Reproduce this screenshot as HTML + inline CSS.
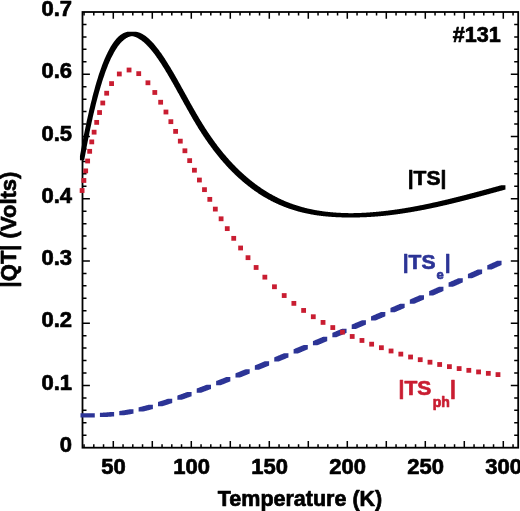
<!DOCTYPE html>
<html><head><meta charset="utf-8"><title>|QT| vs Temperature</title>
<style>html,body{margin:0;padding:0;background:#fff}body{width:520px;height:511px;overflow:hidden}svg{display:block}</style>
</head><body>
<svg width="520" height="511" viewBox="0 0 520 511">
<rect x="0" y="0" width="520" height="511" fill="#fff"/>
<path d="M84.05 447.70v-3.40M84.05 12.00v3.40M93.80 447.70v-3.40M93.80 12.00v3.40M103.55 447.70v-3.40M103.55 12.00v3.40M113.30 447.70v-6.80M113.30 12.00v6.80M123.05 447.70v-3.40M123.05 12.00v3.40M132.80 447.70v-3.40M132.80 12.00v3.40M142.55 447.70v-3.40M142.55 12.00v3.40M152.30 447.70v-6.80M152.30 12.00v6.80M162.05 447.70v-3.40M162.05 12.00v3.40M171.80 447.70v-3.40M171.80 12.00v3.40M181.55 447.70v-3.40M181.55 12.00v3.40M191.30 447.70v-6.80M191.30 12.00v6.80M201.05 447.70v-3.40M201.05 12.00v3.40M210.80 447.70v-3.40M210.80 12.00v3.40M220.55 447.70v-3.40M220.55 12.00v3.40M230.30 447.70v-6.80M230.30 12.00v6.80M240.05 447.70v-3.40M240.05 12.00v3.40M249.80 447.70v-3.40M249.80 12.00v3.40M259.55 447.70v-3.40M259.55 12.00v3.40M269.30 447.70v-6.80M269.30 12.00v6.80M279.05 447.70v-3.40M279.05 12.00v3.40M288.80 447.70v-3.40M288.80 12.00v3.40M298.55 447.70v-3.40M298.55 12.00v3.40M308.30 447.70v-6.80M308.30 12.00v6.80M318.05 447.70v-3.40M318.05 12.00v3.40M327.80 447.70v-3.40M327.80 12.00v3.40M337.55 447.70v-3.40M337.55 12.00v3.40M347.30 447.70v-6.80M347.30 12.00v6.80M357.05 447.70v-3.40M357.05 12.00v3.40M366.80 447.70v-3.40M366.80 12.00v3.40M376.55 447.70v-3.40M376.55 12.00v3.40M386.30 447.70v-6.80M386.30 12.00v6.80M396.05 447.70v-3.40M396.05 12.00v3.40M405.80 447.70v-3.40M405.80 12.00v3.40M415.55 447.70v-3.40M415.55 12.00v3.40M425.30 447.70v-6.80M425.30 12.00v6.80M435.05 447.70v-3.40M435.05 12.00v3.40M444.80 447.70v-3.40M444.80 12.00v3.40M454.55 447.70v-3.40M454.55 12.00v3.40M464.30 447.70v-6.80M464.30 12.00v6.80M474.05 447.70v-3.40M474.05 12.00v3.40M483.80 447.70v-3.40M483.80 12.00v3.40M493.55 447.70v-3.40M493.55 12.00v3.40M503.30 447.70v-6.80M503.30 12.00v6.80M513.05 447.70v-3.40M513.05 12.00v3.40M82.50 435.25h4.00M518.20 435.25h-4.00M82.50 422.80h4.00M518.20 422.80h-4.00M82.50 410.35h4.00M518.20 410.35h-4.00M82.50 397.91h4.00M518.20 397.91h-4.00M82.50 385.46h7.40M518.20 385.46h-7.40M82.50 373.01h4.00M518.20 373.01h-4.00M82.50 360.56h4.00M518.20 360.56h-4.00M82.50 348.11h4.00M518.20 348.11h-4.00M82.50 335.66h4.00M518.20 335.66h-4.00M82.50 323.21h7.40M518.20 323.21h-7.40M82.50 310.77h4.00M518.20 310.77h-4.00M82.50 298.32h4.00M518.20 298.32h-4.00M82.50 285.87h4.00M518.20 285.87h-4.00M82.50 273.42h4.00M518.20 273.42h-4.00M82.50 260.97h7.40M518.20 260.97h-7.40M82.50 248.52h4.00M518.20 248.52h-4.00M82.50 236.07h4.00M518.20 236.07h-4.00M82.50 223.63h4.00M518.20 223.63h-4.00M82.50 211.18h4.00M518.20 211.18h-4.00M82.50 198.73h7.40M518.20 198.73h-7.40M82.50 186.28h4.00M518.20 186.28h-4.00M82.50 173.83h4.00M518.20 173.83h-4.00M82.50 161.38h4.00M518.20 161.38h-4.00M82.50 148.93h4.00M518.20 148.93h-4.00M82.50 136.49h7.40M518.20 136.49h-7.40M82.50 124.04h4.00M518.20 124.04h-4.00M82.50 111.59h4.00M518.20 111.59h-4.00M82.50 99.14h4.00M518.20 99.14h-4.00M82.50 86.69h4.00M518.20 86.69h-4.00M82.50 74.24h7.40M518.20 74.24h-7.40M82.50 61.79h4.00M518.20 61.79h-4.00M82.50 49.35h4.00M518.20 49.35h-4.00M82.50 36.90h4.00M518.20 36.90h-4.00M82.50 24.45h4.00M518.20 24.45h-4.00" stroke="#000" stroke-width="1.50" fill="none"/>
<rect x="82.50" y="12.00" width="435.70" height="435.70" fill="none" stroke="#000" stroke-width="1.8"/>
<path d="M80.50 413.17 L80.90 413.17 L81.31 413.17 L81.72 413.17 L82.13 413.17 L82.54 413.17 L82.94 413.17 L83.35 413.17 L83.76 413.17 L84.17 413.17 L84.58 413.17 L84.99 413.17 L85.39 413.17 L85.80 413.17 L86.21 413.18 L86.62 413.17 L87.03 413.17 L87.43 413.17 L87.84 413.16 L88.25 413.16 L88.66 413.15 L89.07 413.15 L89.47 413.14 L89.88 413.14 L90.29 413.13 L90.70 413.13 L91.11 413.13 L91.52 413.13 L91.92 413.13 L92.33 413.13 L92.74 413.13 L93.15 413.13 L93.56 413.13 L93.96 413.13 L94.37 413.13 L94.78 413.13 L94.78 417.43 L94.37 417.43 L93.96 417.44 L93.56 417.44 L93.15 417.45 L92.74 417.46 L92.33 417.46 L91.92 417.47 L91.52 417.47 L91.11 417.47 L90.70 417.48 L90.29 417.48 L89.88 417.48 L89.47 417.48 L89.07 417.48 L88.66 417.48 L88.25 417.48 L87.84 417.48 L87.43 417.48 L87.03 417.48 L86.62 417.48 L86.21 417.48 L85.80 417.48 L85.39 417.48 L84.99 417.48 L84.58 417.48 L84.17 417.48 L83.76 417.48 L83.35 417.48 L82.94 417.48 L82.54 417.48 L82.13 417.48 L81.72 417.48 L81.31 417.47 L80.90 417.47 L80.50 417.47Z M99.92 412.80 L100.32 412.78 L100.73 412.76 L101.14 412.73 L101.54 412.71 L101.95 412.68 L102.35 412.66 L102.76 412.64 L103.17 412.61 L103.57 412.59 L103.98 412.56 L104.38 412.53 L104.79 412.50 L105.19 412.47 L105.60 412.44 L106.01 412.41 L106.41 412.38 L106.82 412.35 L107.22 412.32 L107.63 412.28 L108.04 412.25 L108.44 412.21 L108.85 412.18 L109.25 412.14 L109.66 412.11 L110.07 412.09 L110.47 412.09 L110.88 412.09 L111.28 412.09 L111.69 412.09 L112.09 412.09 L112.50 412.09 L112.91 412.09 L113.31 412.09 L113.72 412.09 L114.12 412.09 L114.12 416.39 L113.72 416.42 L113.31 416.46 L112.91 416.49 L112.50 416.53 L112.09 416.57 L111.69 416.60 L111.28 416.63 L110.88 416.66 L110.47 416.69 L110.07 416.73 L109.66 416.76 L109.25 416.78 L108.85 416.81 L108.44 416.84 L108.04 416.87 L107.63 416.90 L107.22 416.92 L106.82 416.95 L106.41 416.97 L106.01 417.00 L105.60 417.02 L105.19 417.04 L104.79 417.06 L104.38 417.09 L103.98 417.10 L103.57 417.10 L103.17 417.10 L102.76 417.10 L102.35 417.10 L101.95 417.10 L101.54 417.10 L101.14 417.10 L100.73 417.10 L100.32 417.10 L99.92 417.10Z M119.26 410.99 L119.67 410.94 L120.07 410.88 L120.48 410.83 L120.89 410.77 L121.29 410.70 L121.70 410.64 L122.10 410.58 L122.51 410.52 L122.91 410.46 L123.32 410.38 L123.73 410.32 L124.13 410.26 L124.54 410.19 L124.94 410.13 L125.35 410.05 L125.76 409.98 L126.16 409.91 L126.57 409.84 L126.97 409.77 L127.38 409.68 L127.79 409.61 L128.19 409.54 L128.60 409.47 L129.00 409.39 L129.41 409.35 L129.82 409.35 L130.22 409.35 L130.63 409.35 L131.03 409.35 L131.44 409.35 L131.84 409.35 L132.25 409.35 L132.66 409.35 L133.06 409.35 L133.47 409.35 L133.47 413.65 L133.06 413.72 L132.66 413.80 L132.25 413.87 L131.84 413.94 L131.44 414.03 L131.03 414.10 L130.63 414.17 L130.22 414.24 L129.82 414.30 L129.41 414.39 L129.00 414.45 L128.60 414.52 L128.19 414.58 L127.79 414.65 L127.38 414.72 L126.97 414.78 L126.57 414.84 L126.16 414.90 L125.76 414.96 L125.35 415.03 L124.94 415.09 L124.54 415.15 L124.13 415.20 L123.73 415.26 L123.32 415.29 L122.91 415.29 L122.51 415.29 L122.10 415.29 L121.70 415.29 L121.29 415.29 L120.89 415.29 L120.48 415.29 L120.07 415.29 L119.67 415.29 L119.26 415.29Z M138.61 407.31 L139.01 407.22 L139.42 407.13 L139.83 407.03 L140.24 406.94 L140.65 406.82 L141.05 406.73 L141.46 406.63 L141.87 406.53 L142.28 406.42 L142.69 406.32 L143.10 406.22 L143.50 406.12 L143.91 405.99 L144.32 405.89 L144.73 405.79 L145.14 405.69 L145.54 405.58 L145.95 405.46 L146.36 405.36 L146.77 405.25 L147.18 405.14 L147.58 405.02 L147.99 404.91 L148.40 404.80 L148.81 404.74 L149.22 404.74 L149.63 404.74 L150.03 404.74 L150.44 404.74 L150.85 404.74 L151.26 404.74 L151.67 404.74 L152.07 404.74 L152.48 404.74 L152.89 404.74 L152.89 409.04 L152.48 409.14 L152.07 409.25 L151.67 409.36 L151.26 409.47 L150.85 409.59 L150.44 409.70 L150.03 409.80 L149.63 409.91 L149.22 410.03 L148.81 410.13 L148.40 410.23 L147.99 410.34 L147.58 410.46 L147.18 410.56 L146.77 410.66 L146.36 410.75 L145.95 410.85 L145.54 410.97 L145.14 411.07 L144.73 411.16 L144.32 411.26 L143.91 411.37 L143.50 411.47 L143.10 411.56 L142.69 411.61 L142.28 411.61 L141.87 411.61 L141.46 411.61 L141.05 411.61 L140.65 411.61 L140.24 411.61 L139.83 411.61 L139.42 411.61 L139.01 411.61 L138.61 411.61Z M158.03 401.96 L158.43 401.84 L158.84 401.72 L159.25 401.60 L159.65 401.48 L160.06 401.33 L160.46 401.21 L160.87 401.08 L161.28 400.96 L161.68 400.83 L162.09 400.68 L162.49 400.56 L162.90 400.43 L163.30 400.31 L163.71 400.18 L164.12 400.03 L164.52 399.90 L164.93 399.77 L165.33 399.65 L165.74 399.52 L166.15 399.36 L166.55 399.23 L166.96 399.10 L167.36 398.97 L167.77 398.84 L168.18 398.77 L168.58 398.77 L168.99 398.77 L169.39 398.77 L169.80 398.77 L170.20 398.77 L170.61 398.77 L171.02 398.77 L171.42 398.77 L171.83 398.77 L172.23 398.77 L172.23 403.07 L171.83 403.20 L171.42 403.33 L171.02 403.46 L170.61 403.59 L170.20 403.74 L169.80 403.87 L169.39 404.00 L168.99 404.12 L168.58 404.25 L168.18 404.40 L167.77 404.53 L167.36 404.66 L166.96 404.78 L166.55 404.91 L166.15 405.06 L165.74 405.18 L165.33 405.31 L164.93 405.43 L164.52 405.55 L164.12 405.70 L163.71 405.82 L163.30 405.95 L162.90 406.07 L162.49 406.19 L162.09 406.26 L161.68 406.26 L161.28 406.26 L160.87 406.26 L160.46 406.26 L160.06 406.26 L159.65 406.26 L159.25 406.26 L158.84 406.26 L158.43 406.26 L158.03 406.26Z M177.37 395.52 L177.78 395.38 L178.18 395.24 L178.59 395.10 L179.00 394.97 L179.40 394.80 L179.81 394.66 L180.21 394.52 L180.62 394.38 L181.02 394.24 L181.43 394.08 L181.84 393.94 L182.24 393.80 L182.65 393.66 L183.05 393.52 L183.46 393.35 L183.87 393.21 L184.27 393.07 L184.68 392.92 L185.08 392.78 L185.49 392.61 L185.90 392.47 L186.30 392.33 L186.71 392.19 L187.11 392.05 L187.52 391.96 L187.93 391.96 L188.33 391.96 L188.74 391.96 L189.14 391.96 L189.55 391.96 L189.95 391.96 L190.36 391.96 L190.77 391.96 L191.17 391.96 L191.58 391.96 L191.58 396.26 L191.17 396.40 L190.77 396.54 L190.36 396.69 L189.95 396.83 L189.55 397.00 L189.14 397.14 L188.74 397.28 L188.33 397.42 L187.93 397.56 L187.52 397.73 L187.11 397.87 L186.71 398.01 L186.30 398.15 L185.90 398.29 L185.49 398.46 L185.08 398.60 L184.68 398.74 L184.27 398.88 L183.87 399.02 L183.46 399.18 L183.05 399.32 L182.65 399.46 L182.24 399.60 L181.84 399.73 L181.43 399.82 L181.02 399.82 L180.62 399.82 L180.21 399.82 L179.81 399.82 L179.40 399.82 L179.00 399.82 L178.59 399.82 L178.18 399.82 L177.78 399.82 L177.37 399.82Z M196.72 388.47 L197.12 388.33 L197.53 388.18 L197.94 388.03 L198.35 387.89 L198.76 387.71 L199.16 387.56 L199.57 387.42 L199.98 387.27 L200.39 387.09 L200.80 386.94 L201.21 386.80 L201.61 386.65 L202.02 386.47 L202.43 386.32 L202.84 386.18 L203.25 386.03 L203.65 385.88 L204.06 385.70 L204.47 385.55 L204.88 385.40 L205.29 385.25 L205.69 385.07 L206.10 384.92 L206.51 384.77 L206.92 384.68 L207.33 384.68 L207.74 384.68 L208.14 384.68 L208.55 384.68 L208.96 384.68 L209.37 384.68 L209.78 384.68 L210.18 384.68 L210.59 384.68 L211.00 384.68 L211.00 388.98 L210.59 389.13 L210.18 389.28 L209.78 389.43 L209.37 389.58 L208.96 389.76 L208.55 389.91 L208.14 390.06 L207.74 390.21 L207.33 390.39 L206.92 390.53 L206.51 390.68 L206.10 390.83 L205.69 391.01 L205.29 391.16 L204.88 391.30 L204.47 391.45 L204.06 391.60 L203.65 391.77 L203.25 391.92 L202.84 392.07 L202.43 392.22 L202.02 392.39 L201.61 392.54 L201.21 392.68 L200.80 392.77 L200.39 392.77 L199.98 392.77 L199.57 392.77 L199.16 392.77 L198.76 392.77 L198.35 392.77 L197.94 392.77 L197.53 392.77 L197.12 392.77 L196.72 392.77Z M216.14 381.02 L216.54 380.87 L216.95 380.72 L217.36 380.57 L217.76 380.41 L218.17 380.23 L218.57 380.08 L218.98 379.92 L219.39 379.77 L219.79 379.61 L220.20 379.43 L220.60 379.28 L221.01 379.12 L221.41 378.97 L221.82 378.81 L222.23 378.63 L222.63 378.47 L223.04 378.32 L223.44 378.16 L223.85 378.01 L224.26 377.82 L224.66 377.67 L225.07 377.51 L225.47 377.36 L225.88 377.20 L226.29 377.11 L226.69 377.11 L227.10 377.11 L227.50 377.11 L227.91 377.11 L228.31 377.11 L228.72 377.11 L229.13 377.11 L229.53 377.11 L229.94 377.11 L230.34 377.11 L230.34 381.41 L229.94 381.56 L229.53 381.72 L229.13 381.87 L228.72 382.03 L228.31 382.22 L227.91 382.37 L227.50 382.53 L227.10 382.68 L226.69 382.84 L226.29 383.02 L225.88 383.17 L225.47 383.33 L225.07 383.48 L224.66 383.64 L224.26 383.82 L223.85 383.98 L223.44 384.13 L223.04 384.28 L222.63 384.44 L222.23 384.62 L221.82 384.77 L221.41 384.93 L221.01 385.08 L220.60 385.23 L220.20 385.32 L219.79 385.32 L219.39 385.32 L218.98 385.32 L218.57 385.32 L218.17 385.32 L217.76 385.32 L217.36 385.32 L216.95 385.32 L216.54 385.32 L216.14 385.32Z M235.48 373.32 L235.89 373.16 L236.29 373.00 L236.70 372.84 L237.11 372.68 L237.51 372.50 L237.92 372.34 L238.32 372.18 L238.73 372.02 L239.13 371.86 L239.54 371.67 L239.95 371.51 L240.35 371.35 L240.76 371.19 L241.16 371.04 L241.57 370.85 L241.98 370.69 L242.38 370.53 L242.79 370.37 L243.19 370.21 L243.60 370.02 L244.01 369.86 L244.41 369.70 L244.82 369.54 L245.22 369.38 L245.63 369.28 L246.04 369.28 L246.44 369.28 L246.85 369.28 L247.25 369.28 L247.66 369.28 L248.06 369.28 L248.47 369.28 L248.88 369.28 L249.28 369.28 L249.69 369.28 L249.69 373.58 L249.28 373.74 L248.88 373.90 L248.47 374.06 L248.06 374.22 L247.66 374.41 L247.25 374.57 L246.85 374.73 L246.44 374.89 L246.04 375.05 L245.63 375.24 L245.22 375.40 L244.82 375.56 L244.41 375.72 L244.01 375.88 L243.60 376.07 L243.19 376.22 L242.79 376.38 L242.38 376.54 L241.98 376.70 L241.57 376.89 L241.16 377.05 L240.76 377.21 L240.35 377.36 L239.95 377.52 L239.54 377.62 L239.13 377.62 L238.73 377.62 L238.32 377.62 L237.92 377.62 L237.51 377.62 L237.11 377.62 L236.70 377.62 L236.29 377.62 L235.89 377.62 L235.48 377.62Z M254.83 365.40 L255.23 365.24 L255.64 365.08 L256.05 364.91 L256.46 364.75 L256.87 364.56 L257.27 364.40 L257.68 364.24 L258.09 364.07 L258.50 363.88 L258.91 363.72 L259.32 363.56 L259.72 363.39 L260.13 363.20 L260.54 363.04 L260.95 362.88 L261.36 362.71 L261.76 362.55 L262.17 362.36 L262.58 362.20 L262.99 362.03 L263.40 361.87 L263.80 361.68 L264.21 361.51 L264.62 361.35 L265.03 361.25 L265.44 361.25 L265.85 361.25 L266.25 361.25 L266.66 361.25 L267.07 361.25 L267.48 361.25 L267.89 361.25 L268.29 361.25 L268.70 361.25 L269.11 361.25 L269.11 365.55 L268.70 365.72 L268.29 365.88 L267.89 366.04 L267.48 366.20 L267.07 366.40 L266.66 366.56 L266.25 366.72 L265.85 366.88 L265.44 367.08 L265.03 367.24 L264.62 367.40 L264.21 367.56 L263.80 367.76 L263.40 367.92 L262.99 368.08 L262.58 368.24 L262.17 368.41 L261.76 368.60 L261.36 368.76 L260.95 368.92 L260.54 369.08 L260.13 369.28 L259.72 369.44 L259.32 369.60 L258.91 369.70 L258.50 369.70 L258.09 369.70 L257.68 369.70 L257.27 369.70 L256.87 369.70 L256.46 369.70 L256.05 369.70 L255.64 369.70 L255.23 369.70 L254.83 369.70Z M274.25 357.31 L274.65 357.15 L275.06 356.99 L275.47 356.83 L275.87 356.66 L276.28 356.47 L276.68 356.30 L277.09 356.14 L277.50 355.98 L277.90 355.81 L278.31 355.62 L278.71 355.45 L279.12 355.29 L279.52 355.13 L279.93 354.96 L280.34 354.77 L280.74 354.60 L281.15 354.44 L281.55 354.28 L281.96 354.11 L282.37 353.92 L282.77 353.75 L283.18 353.59 L283.58 353.43 L283.99 353.26 L284.40 353.17 L284.80 353.17 L285.21 353.17 L285.61 353.17 L286.02 353.17 L286.42 353.17 L286.83 353.17 L287.24 353.17 L287.64 353.17 L288.05 353.17 L288.45 353.17 L288.45 357.47 L288.05 357.63 L287.64 357.79 L287.24 357.96 L286.83 358.12 L286.42 358.32 L286.02 358.48 L285.61 358.64 L285.21 358.81 L284.80 358.97 L284.40 359.17 L283.99 359.33 L283.58 359.49 L283.18 359.66 L282.77 359.82 L282.37 360.02 L281.96 360.18 L281.55 360.34 L281.15 360.50 L280.74 360.67 L280.34 360.86 L279.93 361.03 L279.52 361.19 L279.12 361.35 L278.71 361.52 L278.31 361.61 L277.90 361.61 L277.50 361.61 L277.09 361.61 L276.68 361.61 L276.28 361.61 L275.87 361.61 L275.47 361.61 L275.06 361.61 L274.65 361.61 L274.25 361.61Z M293.59 349.20 L294.00 349.04 L294.40 348.88 L294.81 348.71 L295.22 348.55 L295.62 348.35 L296.03 348.19 L296.43 348.02 L296.84 347.86 L297.24 347.70 L297.65 347.50 L298.06 347.34 L298.46 347.17 L298.87 347.01 L299.27 346.84 L299.68 346.65 L300.09 346.48 L300.49 346.32 L300.90 346.15 L301.30 345.99 L301.71 345.79 L302.12 345.63 L302.52 345.46 L302.93 345.30 L303.33 345.14 L303.74 345.04 L304.15 345.04 L304.55 345.04 L304.96 345.04 L305.36 345.04 L305.77 345.04 L306.17 345.04 L306.58 345.04 L306.99 345.04 L307.39 345.04 L307.80 345.04 L307.80 349.34 L307.39 349.50 L306.99 349.67 L306.58 349.83 L306.17 349.99 L305.77 350.19 L305.36 350.36 L304.96 350.52 L304.55 350.68 L304.15 350.85 L303.74 351.04 L303.33 351.21 L302.93 351.37 L302.52 351.54 L302.12 351.70 L301.71 351.90 L301.30 352.06 L300.90 352.23 L300.49 352.39 L300.09 352.55 L299.68 352.75 L299.27 352.91 L298.87 353.08 L298.46 353.24 L298.06 353.41 L297.65 353.50 L297.24 353.50 L296.84 353.50 L296.43 353.50 L296.03 353.50 L295.62 353.50 L295.22 353.50 L294.81 353.50 L294.40 353.50 L294.00 353.50 L293.59 353.50Z M312.94 341.06 L313.34 340.89 L313.75 340.73 L314.16 340.56 L314.57 340.40 L314.98 340.20 L315.38 340.04 L315.79 339.87 L316.20 339.71 L316.61 339.51 L317.02 339.34 L317.43 339.18 L317.83 339.01 L318.24 338.82 L318.65 338.65 L319.06 338.49 L319.47 338.32 L319.87 338.16 L320.28 337.96 L320.69 337.79 L321.10 337.63 L321.51 337.46 L321.91 337.27 L322.32 337.10 L322.73 336.94 L323.14 336.84 L323.55 336.84 L323.96 336.84 L324.36 336.84 L324.77 336.84 L325.18 336.84 L325.59 336.84 L326.00 336.84 L326.40 336.84 L326.81 336.84 L327.22 336.84 L327.22 341.14 L326.81 341.30 L326.40 341.47 L326.00 341.63 L325.59 341.80 L325.18 342.00 L324.77 342.16 L324.36 342.33 L323.96 342.49 L323.55 342.69 L323.14 342.85 L322.73 343.02 L322.32 343.18 L321.91 343.38 L321.51 343.55 L321.10 343.71 L320.69 343.88 L320.28 344.04 L319.87 344.24 L319.47 344.40 L319.06 344.57 L318.65 344.73 L318.24 344.93 L317.83 345.09 L317.43 345.26 L317.02 345.36 L316.61 345.36 L316.20 345.36 L315.79 345.36 L315.38 345.36 L314.98 345.36 L314.57 345.36 L314.16 345.36 L313.75 345.36 L313.34 345.36 L312.94 345.36Z M332.36 332.84 L332.76 332.67 L333.17 332.51 L333.58 332.34 L333.98 332.17 L334.39 331.98 L334.79 331.81 L335.20 331.64 L335.61 331.48 L336.01 331.31 L336.42 331.11 L336.82 330.95 L337.23 330.78 L337.63 330.62 L338.04 330.45 L338.45 330.25 L338.85 330.09 L339.26 329.92 L339.66 329.75 L340.07 329.59 L340.48 329.39 L340.88 329.22 L341.29 329.06 L341.69 328.89 L342.10 328.73 L342.51 328.63 L342.91 328.63 L343.32 328.63 L343.72 328.63 L344.13 328.63 L344.53 328.63 L344.94 328.63 L345.35 328.63 L345.75 328.63 L346.16 328.63 L346.56 328.63 L346.56 332.93 L346.16 333.09 L345.75 333.26 L345.35 333.42 L344.94 333.59 L344.53 333.79 L344.13 333.95 L343.72 334.12 L343.32 334.29 L342.91 334.45 L342.51 334.65 L342.10 334.82 L341.69 334.98 L341.29 335.15 L340.88 335.31 L340.48 335.51 L340.07 335.68 L339.66 335.84 L339.26 336.01 L338.85 336.18 L338.45 336.37 L338.04 336.54 L337.63 336.71 L337.23 336.87 L336.82 337.04 L336.42 337.14 L336.01 337.14 L335.61 337.14 L335.20 337.14 L334.79 337.14 L334.39 337.14 L333.98 337.14 L333.58 337.14 L333.17 337.14 L332.76 337.14 L332.36 337.14Z M351.70 324.60 L352.11 324.44 L352.51 324.27 L352.92 324.10 L353.33 323.94 L353.73 323.74 L354.14 323.57 L354.54 323.40 L354.95 323.24 L355.35 323.07 L355.76 322.87 L356.17 322.70 L356.57 322.54 L356.98 322.37 L357.38 322.20 L357.79 322.00 L358.20 321.84 L358.60 321.67 L359.01 321.50 L359.41 321.33 L359.82 321.13 L360.23 320.97 L360.63 320.80 L361.04 320.63 L361.44 320.47 L361.85 320.37 L362.26 320.37 L362.66 320.37 L363.07 320.37 L363.47 320.37 L363.88 320.37 L364.28 320.37 L364.69 320.37 L365.10 320.37 L365.50 320.37 L365.91 320.37 L365.91 324.67 L365.50 324.83 L365.10 325.00 L364.69 325.17 L364.28 325.33 L363.88 325.53 L363.47 325.70 L363.07 325.87 L362.66 326.03 L362.26 326.20 L361.85 326.40 L361.44 326.57 L361.04 326.74 L360.63 326.90 L360.23 327.07 L359.82 327.27 L359.41 327.44 L359.01 327.60 L358.60 327.77 L358.20 327.94 L357.79 328.14 L357.38 328.30 L356.98 328.47 L356.57 328.64 L356.17 328.80 L355.76 328.90 L355.35 328.90 L354.95 328.90 L354.54 328.90 L354.14 328.90 L353.73 328.90 L353.33 328.90 L352.92 328.90 L352.51 328.90 L352.11 328.90 L351.70 328.90Z M371.05 316.32 L371.45 316.15 L371.86 315.98 L372.27 315.81 L372.68 315.65 L373.09 315.45 L373.49 315.28 L373.90 315.11 L374.31 314.94 L374.72 314.74 L375.13 314.57 L375.54 314.41 L375.94 314.24 L376.35 314.04 L376.76 313.87 L377.17 313.70 L377.58 313.53 L377.98 313.37 L378.39 313.16 L378.80 313.00 L379.21 312.83 L379.62 312.66 L380.02 312.46 L380.43 312.29 L380.84 312.12 L381.25 312.02 L381.66 312.02 L382.07 312.02 L382.47 312.02 L382.88 312.02 L383.29 312.02 L383.70 312.02 L384.11 312.02 L384.51 312.02 L384.92 312.02 L385.33 312.02 L385.33 316.32 L384.92 316.49 L384.51 316.66 L384.11 316.83 L383.70 316.99 L383.29 317.19 L382.88 317.36 L382.47 317.53 L382.07 317.70 L381.66 317.90 L381.25 318.07 L380.84 318.24 L380.43 318.40 L380.02 318.61 L379.62 318.77 L379.21 318.94 L378.80 319.11 L378.39 319.28 L377.98 319.48 L377.58 319.65 L377.17 319.81 L376.76 319.98 L376.35 320.18 L375.94 320.35 L375.54 320.52 L375.13 320.62 L374.72 320.62 L374.31 320.62 L373.90 320.62 L373.49 320.62 L373.09 320.62 L372.68 320.62 L372.27 320.62 L371.86 320.62 L371.45 320.62 L371.05 320.62Z M390.47 307.95 L390.87 307.78 L391.28 307.61 L391.69 307.44 L392.09 307.27 L392.50 307.07 L392.90 306.90 L393.31 306.73 L393.72 306.56 L394.12 306.39 L394.53 306.19 L394.93 306.02 L395.34 305.85 L395.74 305.68 L396.15 305.51 L396.56 305.31 L396.96 305.14 L397.37 304.97 L397.77 304.80 L398.18 304.63 L398.59 304.43 L398.99 304.26 L399.40 304.09 L399.80 303.92 L400.21 303.75 L400.62 303.65 L401.02 303.65 L401.43 303.65 L401.83 303.65 L402.24 303.65 L402.64 303.65 L403.05 303.65 L403.46 303.65 L403.86 303.65 L404.27 303.65 L404.67 303.65 L404.67 307.95 L404.27 308.12 L403.86 308.29 L403.46 308.46 L403.05 308.63 L402.64 308.83 L402.24 309.00 L401.83 309.17 L401.43 309.34 L401.02 309.51 L400.62 309.71 L400.21 309.88 L399.80 310.05 L399.40 310.22 L398.99 310.39 L398.59 310.59 L398.18 310.76 L397.77 310.93 L397.37 311.10 L396.96 311.27 L396.56 311.47 L396.15 311.64 L395.74 311.81 L395.34 311.98 L394.93 312.14 L394.53 312.25 L394.12 312.25 L393.72 312.25 L393.31 312.25 L392.90 312.25 L392.50 312.25 L392.09 312.25 L391.69 312.25 L391.28 312.25 L390.87 312.25 L390.47 312.25Z M409.81 299.55 L410.22 299.38 L410.62 299.21 L411.03 299.04 L411.44 298.87 L411.84 298.66 L412.25 298.49 L412.65 298.32 L413.06 298.15 L413.46 297.98 L413.87 297.78 L414.28 297.61 L414.68 297.44 L415.09 297.27 L415.49 297.10 L415.90 296.89 L416.31 296.72 L416.71 296.55 L417.12 296.38 L417.52 296.21 L417.93 296.01 L418.34 295.84 L418.74 295.67 L419.15 295.50 L419.55 295.32 L419.96 295.22 L420.37 295.22 L420.77 295.22 L421.18 295.22 L421.58 295.22 L421.99 295.22 L422.39 295.22 L422.80 295.22 L423.21 295.22 L423.61 295.22 L424.02 295.22 L424.02 299.52 L423.61 299.69 L423.21 299.86 L422.80 300.03 L422.39 300.20 L421.99 300.41 L421.58 300.58 L421.18 300.75 L420.77 300.92 L420.37 301.09 L419.96 301.30 L419.55 301.47 L419.15 301.64 L418.74 301.81 L418.34 301.98 L417.93 302.18 L417.52 302.35 L417.12 302.52 L416.71 302.69 L416.31 302.86 L415.90 303.07 L415.49 303.24 L415.09 303.41 L414.68 303.58 L414.28 303.75 L413.87 303.85 L413.46 303.85 L413.06 303.85 L412.65 303.85 L412.25 303.85 L411.84 303.85 L411.44 303.85 L411.03 303.85 L410.62 303.85 L410.22 303.85 L409.81 303.85Z M429.16 291.09 L429.56 290.92 L429.97 290.74 L430.38 290.57 L430.79 290.40 L431.20 290.20 L431.60 290.02 L432.01 289.85 L432.42 289.68 L432.83 289.48 L433.24 289.30 L433.65 289.13 L434.05 288.96 L434.46 288.75 L434.87 288.58 L435.28 288.41 L435.69 288.24 L436.09 288.07 L436.50 287.86 L436.91 287.69 L437.32 287.52 L437.73 287.35 L438.13 287.14 L438.54 286.97 L438.95 286.80 L439.36 286.69 L439.77 286.69 L440.18 286.69 L440.58 286.69 L440.99 286.69 L441.40 286.69 L441.81 286.69 L442.22 286.69 L442.62 286.69 L443.03 286.69 L443.44 286.69 L443.44 290.99 L443.03 291.17 L442.62 291.34 L442.22 291.51 L441.81 291.68 L441.40 291.89 L440.99 292.06 L440.58 292.23 L440.18 292.40 L439.77 292.61 L439.36 292.78 L438.95 292.95 L438.54 293.12 L438.13 293.33 L437.73 293.50 L437.32 293.67 L436.91 293.84 L436.50 294.02 L436.09 294.22 L435.69 294.39 L435.28 294.56 L434.87 294.74 L434.46 294.94 L434.05 295.11 L433.65 295.28 L433.24 295.39 L432.83 295.39 L432.42 295.39 L432.01 295.39 L431.60 295.39 L431.20 295.39 L430.79 295.39 L430.38 295.39 L429.97 295.39 L429.56 295.39 L429.16 295.39Z M448.58 282.52 L448.98 282.35 L449.39 282.18 L449.80 282.01 L450.20 281.83 L450.61 281.63 L451.01 281.45 L451.42 281.28 L451.83 281.11 L452.23 280.93 L452.64 280.73 L453.04 280.55 L453.45 280.38 L453.85 280.21 L454.26 280.03 L454.67 279.83 L455.07 279.65 L455.48 279.48 L455.88 279.31 L456.29 279.13 L456.70 278.93 L457.10 278.75 L457.51 278.58 L457.91 278.41 L458.32 278.23 L458.73 278.13 L459.13 278.13 L459.54 278.13 L459.94 278.13 L460.35 278.13 L460.75 278.13 L461.16 278.13 L461.57 278.13 L461.97 278.13 L462.38 278.13 L462.78 278.13 L462.78 282.43 L462.38 282.60 L461.97 282.78 L461.57 282.95 L461.16 283.12 L460.75 283.33 L460.35 283.50 L459.94 283.68 L459.54 283.85 L459.13 284.02 L458.73 284.23 L458.32 284.40 L457.91 284.58 L457.51 284.75 L457.10 284.92 L456.70 285.13 L456.29 285.30 L455.88 285.48 L455.48 285.65 L455.07 285.82 L454.67 286.03 L454.26 286.20 L453.85 286.37 L453.45 286.55 L453.04 286.72 L452.64 286.82 L452.23 286.82 L451.83 286.82 L451.42 286.82 L451.01 286.82 L450.61 286.82 L450.20 286.82 L449.80 286.82 L449.39 286.82 L448.98 286.82 L448.58 286.82Z M467.92 273.92 L468.33 273.75 L468.73 273.57 L469.14 273.40 L469.55 273.23 L469.95 273.02 L470.36 272.84 L470.76 272.67 L471.17 272.49 L471.57 272.32 L471.98 272.11 L472.39 271.94 L472.79 271.76 L473.20 271.59 L473.60 271.41 L474.01 271.20 L474.42 271.03 L474.82 270.85 L475.23 270.68 L475.63 270.50 L476.04 270.29 L476.45 270.12 L476.85 269.94 L477.26 269.77 L477.66 269.59 L478.07 269.49 L478.48 269.49 L478.88 269.49 L479.29 269.49 L479.69 269.49 L480.10 269.49 L480.50 269.49 L480.91 269.49 L481.32 269.49 L481.72 269.49 L482.13 269.49 L482.13 273.79 L481.72 273.96 L481.32 274.14 L480.91 274.31 L480.50 274.49 L480.10 274.70 L479.69 274.87 L479.29 275.05 L478.88 275.22 L478.48 275.40 L478.07 275.61 L477.66 275.78 L477.26 275.96 L476.85 276.13 L476.45 276.31 L476.04 276.51 L475.63 276.69 L475.23 276.86 L474.82 277.04 L474.42 277.21 L474.01 277.42 L473.60 277.60 L473.20 277.77 L472.79 277.94 L472.39 278.12 L471.98 278.22 L471.57 278.22 L471.17 278.22 L470.76 278.22 L470.36 278.22 L469.95 278.22 L469.55 278.22 L469.14 278.22 L468.73 278.22 L468.33 278.22 L467.92 278.22Z M487.27 265.25 L487.67 265.07 L488.08 264.89 L488.49 264.72 L488.90 264.54 L489.31 264.33 L489.71 264.16 L490.12 263.98 L490.53 263.80 L490.94 263.59 L491.35 263.42 L491.76 263.24 L492.16 263.06 L492.57 262.85 L492.98 262.68 L493.39 262.50 L493.80 262.32 L494.20 262.15 L494.61 261.94 L495.02 261.76 L495.43 261.58 L495.84 261.41 L496.24 261.20 L496.65 261.02 L497.06 260.84 L497.47 260.74 L497.88 260.74 L498.29 260.74 L498.69 260.74 L499.10 260.74 L499.51 260.74 L499.92 260.74 L500.33 260.74 L500.73 260.74 L501.14 260.74 L501.55 260.74 L501.55 265.04 L501.14 265.21 L500.73 265.39 L500.33 265.57 L499.92 265.74 L499.51 265.95 L499.10 266.13 L498.69 266.31 L498.29 266.48 L497.88 266.69 L497.47 266.87 L497.06 267.05 L496.65 267.22 L496.24 267.44 L495.84 267.61 L495.43 267.79 L495.02 267.96 L494.61 268.14 L494.20 268.35 L493.80 268.53 L493.39 268.70 L492.98 268.88 L492.57 269.09 L492.16 269.26 L491.76 269.44 L491.35 269.55 L490.94 269.55 L490.53 269.55 L490.12 269.55 L489.71 269.55 L489.31 269.55 L488.90 269.55 L488.49 269.55 L488.08 269.55 L487.67 269.55 L487.27 269.55Z" fill="#2c3496"/>
<g fill="#c91d31"><rect x="79.70" y="188.12" width="4.8" height="4.8"/><rect x="81.49" y="178.07" width="4.8" height="4.8"/><rect x="83.29" y="168.49" width="4.8" height="4.8"/><rect x="85.24" y="158.61" width="4.8" height="4.8"/><rect x="87.27" y="148.92" width="4.8" height="4.8"/><rect x="89.37" y="139.49" width="4.8" height="4.8"/><rect x="91.71" y="129.77" width="4.8" height="4.8"/><rect x="94.29" y="119.98" width="4.8" height="4.8"/><rect x="97.17" y="110.13" width="4.8" height="4.8"/><rect x="100.37" y="100.59" width="4.8" height="4.8"/><rect x="104.27" y="90.81" width="4.8" height="4.8"/><rect x="109.18" y="81.20" width="4.8" height="4.8"/><rect x="116.91" y="71.57" width="4.8" height="4.8"/><rect x="126.66" y="67.60" width="4.8" height="4.8"/><rect x="136.33" y="71.24" width="4.8" height="4.8"/><rect x="145.53" y="80.39" width="4.8" height="4.8"/><rect x="152.40" y="90.07" width="4.8" height="4.8"/><rect x="158.25" y="99.83" width="4.8" height="4.8"/><rect x="163.55" y="109.61" width="4.8" height="4.8"/><rect x="168.46" y="119.27" width="4.8" height="4.8"/><rect x="173.22" y="128.99" width="4.8" height="4.8"/><rect x="177.90" y="138.75" width="4.8" height="4.8"/><rect x="182.50" y="148.38" width="4.8" height="4.8"/><rect x="187.26" y="158.23" width="4.8" height="4.8"/><rect x="192.02" y="167.83" width="4.8" height="4.8"/><rect x="197.01" y="177.62" width="4.8" height="4.8"/><rect x="202.08" y="187.25" width="4.8" height="4.8"/><rect x="207.39" y="196.96" width="4.8" height="4.8"/><rect x="212.92" y="206.70" width="4.8" height="4.8"/><rect x="218.70" y="216.40" width="4.8" height="4.8"/><rect x="224.86" y="226.22" width="4.8" height="4.8"/><rect x="231.33" y="235.94" width="4.8" height="4.8"/><rect x="238.20" y="245.59" width="4.8" height="4.8"/><rect x="245.61" y="255.28" width="4.8" height="4.8"/><rect x="253.72" y="265.08" width="4.8" height="4.8"/><rect x="262.45" y="274.75" width="4.8" height="4.8"/><rect x="272.05" y="284.36" width="4.8" height="4.8"/><rect x="281.80" y="293.15" width="4.8" height="4.8"/><rect x="291.47" y="300.97" width="4.8" height="4.8"/><rect x="301.22" y="308.04" width="4.8" height="4.8"/><rect x="310.89" y="314.33" width="4.8" height="4.8"/><rect x="320.64" y="320.02" width="4.8" height="4.8"/><rect x="330.39" y="325.16" width="4.8" height="4.8"/><rect x="340.06" y="329.79" width="4.8" height="4.8"/><rect x="349.81" y="334.07" width="4.8" height="4.8"/><rect x="359.56" y="338.05" width="4.8" height="4.8"/><rect x="369.24" y="341.77" width="4.8" height="4.8"/><rect x="378.99" y="345.30" width="4.8" height="4.8"/><rect x="388.66" y="348.59" width="4.8" height="4.8"/><rect x="398.41" y="351.70" width="4.8" height="4.8"/><rect x="408.16" y="354.61" width="4.8" height="4.8"/><rect x="417.83" y="357.29" width="4.8" height="4.8"/><rect x="427.58" y="359.80" width="4.8" height="4.8"/><rect x="437.25" y="362.10" width="4.8" height="4.8"/><rect x="447.00" y="364.24" width="4.8" height="4.8"/><rect x="456.75" y="366.18" width="4.8" height="4.8"/><rect x="466.42" y="367.94" width="4.8" height="4.8"/><rect x="476.17" y="369.53" width="4.8" height="4.8"/><rect x="485.92" y="370.95" width="4.8" height="4.8"/><rect x="495.60" y="372.20" width="4.8" height="4.8"/></g>
<path d="M79.95 156.06 L80.35 153.87 L80.75 151.71 L81.15 149.56 L81.55 147.44 L81.95 145.34 L82.35 143.26 L82.75 141.20 L83.15 138.76 L83.55 136.75 L83.95 134.77 L84.35 132.80 L84.75 130.86 L85.15 128.94 L85.55 127.04 L85.95 125.16 L86.35 122.93 L86.75 121.10 L87.16 119.29 L87.56 117.50 L87.96 115.73 L88.36 113.99 L88.76 112.26 L89.16 110.22 L89.56 108.54 L89.96 106.88 L90.36 105.24 L90.76 103.62 L91.16 102.03 L91.56 100.45 L91.96 98.90 L92.36 97.06 L92.76 95.55 L93.16 94.05 L93.56 92.58 L93.96 91.13 L94.36 89.70 L94.76 88.29 L95.16 86.63 L95.56 85.26 L95.96 83.92 L96.36 82.59 L96.76 81.28 L97.16 79.99 L97.56 78.73 L97.96 77.48 L98.36 76.00 L98.76 74.80 L99.16 73.61 L99.56 72.44 L99.96 71.29 L100.36 70.16 L100.76 69.05 L101.16 67.96 L101.57 66.67 L101.97 65.62 L102.37 64.58 L102.77 63.56 L103.17 62.57 L103.57 61.59 L103.97 60.62 L104.37 59.49 L104.77 58.57 L105.17 57.66 L105.57 56.78 L105.97 55.91 L106.37 55.05 L106.77 54.22 L107.17 53.40 L107.57 52.44 L107.97 51.66 L108.37 50.89 L108.77 50.15 L109.17 49.41 L109.57 48.70 L109.97 48.00 L110.37 47.19 L110.77 46.52 L111.17 45.88 L111.57 45.25 L111.97 44.63 L112.37 44.03 L112.77 43.45 L113.17 42.88 L113.57 42.22 L113.97 41.69 L114.37 41.17 L114.77 40.67 L115.17 40.18 L115.58 39.71 L115.98 39.25 L116.38 38.80 L116.78 38.29 L117.18 37.88 L117.58 37.48 L117.98 37.09 L118.38 36.72 L118.78 36.37 L119.18 36.03 L119.58 35.63 L119.98 35.32 L120.38 35.02 L120.78 34.74 L121.18 34.46 L121.58 34.21 L121.98 33.96 L122.38 33.73 L122.78 33.46 L123.18 33.26 L123.58 33.07 L123.98 32.89 L124.38 32.72 L124.78 32.57 L125.18 32.42 L125.58 32.27 L125.98 32.15 L126.38 32.05 L126.78 31.95 L127.18 31.87 L127.58 31.80 L127.98 31.75 L128.38 31.70 L128.78 31.66 L129.18 31.64 L129.58 31.63 L129.99 31.63 L130.39 31.63 L130.79 31.63 L131.19 31.63 L131.59 31.63 L131.99 31.63 L132.39 31.63 L132.79 31.63 L133.19 31.63 L133.59 31.63 L133.99 31.63 L134.39 31.63 L134.79 31.65 L135.19 31.68 L135.59 31.72 L135.99 31.77 L136.39 31.83 L136.79 31.90 L137.19 31.98 L137.59 32.07 L137.99 32.17 L138.39 32.31 L138.79 32.43 L139.19 32.56 L139.59 32.71 L139.99 32.86 L140.39 33.02 L140.79 33.19 L141.19 33.41 L141.59 33.60 L141.99 33.80 L142.39 34.01 L142.79 34.23 L143.19 34.46 L143.59 34.70 L144.00 34.95 L144.40 35.25 L144.80 35.52 L145.20 35.79 L145.60 36.07 L146.00 36.36 L146.40 36.66 L146.80 36.97 L147.20 37.35 L147.60 37.67 L148.00 38.01 L148.40 38.35 L148.80 38.69 L149.20 39.05 L149.60 39.41 L150.00 39.78 L150.40 40.24 L150.80 40.63 L151.20 41.02 L151.60 41.42 L152.00 41.83 L152.40 42.25 L152.80 42.67 L153.20 43.10 L153.60 43.62 L154.00 44.06 L154.40 44.52 L154.80 44.97 L155.20 45.44 L155.60 45.90 L156.00 46.38 L156.40 46.96 L156.80 47.45 L157.20 47.94 L157.60 48.44 L158.01 48.95 L158.41 49.46 L158.81 49.98 L159.21 50.50 L159.61 51.14 L160.01 51.67 L160.41 52.22 L160.81 52.76 L161.21 53.31 L161.61 53.87 L162.01 54.43 L162.41 55.11 L162.81 55.68 L163.21 56.26 L163.61 56.84 L164.01 57.42 L164.41 58.01 L164.81 58.60 L165.21 59.20 L165.61 59.93 L166.01 60.53 L166.41 61.14 L166.81 61.76 L167.21 62.38 L167.61 63.00 L168.01 63.63 L168.41 64.38 L168.81 65.02 L169.21 65.66 L169.61 66.30 L170.01 66.94 L170.41 67.59 L170.81 68.24 L171.21 68.89 L171.61 69.68 L172.01 70.34 L172.42 71.00 L172.82 71.67 L173.22 72.33 L173.62 73.00 L174.02 73.68 L174.42 74.35 L174.82 75.16 L175.22 75.84 L175.62 76.53 L176.02 77.21 L176.42 77.89 L176.82 78.58 L177.22 79.27 L177.62 80.10 L178.02 80.79 L178.42 81.49 L178.82 82.18 L179.22 82.88 L179.62 83.58 L180.02 84.27 L180.42 84.97 L180.82 85.81 L181.22 86.52 L181.62 87.22 L182.02 87.92 L182.42 88.63 L182.82 89.33 L183.22 90.04 L183.62 90.88 L184.02 91.59 L184.42 92.29 L184.82 93.00 L185.22 93.71 L185.62 94.41 L186.02 95.12 L186.43 95.82 L186.83 96.67 L187.23 97.37 L187.63 98.08 L188.03 98.78 L188.43 99.48 L188.83 100.19 L189.23 100.89 L189.63 101.59 L190.03 102.43 L190.43 103.13 L190.83 103.82 L191.23 104.52 L191.63 105.21 L192.03 105.90 L192.43 106.60 L192.83 107.42 L193.23 108.11 L193.63 108.80 L194.03 109.48 L194.43 110.17 L194.83 110.85 L195.23 111.53 L195.63 112.20 L196.03 113.01 L196.43 113.68 L196.83 114.35 L197.23 115.02 L197.63 115.69 L198.03 116.35 L198.43 117.01 L198.83 117.80 L199.23 118.45 L199.63 119.10 L200.03 119.75 L200.43 120.40 L200.84 121.04 L201.24 121.68 L201.64 122.32 L202.04 123.08 L202.44 123.71 L202.84 124.34 L203.24 124.96 L203.64 125.58 L204.04 126.20 L204.44 126.81 L204.84 127.55 L205.24 128.15 L205.64 128.76 L206.04 129.36 L206.44 129.96 L206.84 130.55 L207.24 131.15 L207.64 131.73 L208.04 132.44 L208.44 133.02 L208.84 133.60 L209.24 134.17 L209.64 134.75 L210.04 135.32 L210.44 135.88 L210.84 136.45 L211.24 137.12 L211.64 137.68 L212.04 138.23 L212.44 138.79 L212.84 139.33 L213.24 139.88 L213.64 140.42 L214.04 141.07 L214.44 141.61 L214.85 142.14 L215.25 142.67 L215.65 143.20 L216.05 143.72 L216.45 144.25 L216.85 144.77 L217.25 145.39 L217.65 145.90 L218.05 146.41 L218.45 146.92 L218.85 147.42 L219.25 147.92 L219.65 148.42 L220.05 149.02 L220.45 149.51 L220.85 150.00 L221.25 150.49 L221.65 150.98 L222.05 151.46 L222.45 151.94 L222.85 152.42 L223.25 152.99 L223.65 153.46 L224.05 153.93 L224.45 154.39 L224.85 154.85 L225.25 155.32 L225.65 155.77 L226.05 156.23 L226.45 156.77 L226.85 157.22 L227.25 157.67 L227.65 158.12 L228.05 158.56 L228.45 159.00 L228.85 159.44 L229.26 159.96 L229.66 160.39 L230.06 160.82 L230.46 161.25 L230.86 161.67 L231.26 162.09 L231.66 162.51 L232.06 162.93 L232.46 163.43 L232.86 163.84 L233.26 164.25 L233.66 164.66 L234.06 165.06 L234.46 165.47 L234.86 165.87 L235.26 166.34 L235.66 166.74 L236.06 167.13 L236.46 167.52 L236.86 167.91 L237.26 168.30 L237.66 168.68 L238.06 169.06 L238.46 169.52 L238.86 169.90 L239.26 170.27 L239.66 170.64 L240.06 171.01 L240.46 171.38 L240.86 171.75 L241.26 172.11 L241.66 172.55 L242.06 172.91 L242.46 173.27 L242.86 173.62 L243.27 173.97 L243.67 174.33 L244.07 174.68 L244.47 175.09 L244.87 175.44 L245.27 175.78 L245.67 176.12 L246.07 176.46 L246.47 176.80 L246.87 177.13 L247.27 177.46 L247.67 177.86 L248.07 178.19 L248.47 178.51 L248.87 178.84 L249.27 179.16 L249.67 179.48 L250.07 179.80 L250.47 180.18 L250.87 180.49 L251.27 180.81 L251.67 181.12 L252.07 181.42 L252.47 181.73 L252.87 182.04 L253.27 182.34 L253.67 182.70 L254.07 183.00 L254.47 183.29 L254.87 183.59 L255.27 183.88 L255.67 184.17 L256.07 184.46 L256.47 184.80 L256.87 185.09 L257.28 185.37 L257.68 185.65 L258.08 185.93 L258.48 186.21 L258.88 186.49 L259.28 186.76 L259.68 187.09 L260.08 187.35 L260.48 187.62 L260.88 187.89 L261.28 188.15 L261.68 188.42 L262.08 188.68 L262.48 188.94 L262.88 189.24 L263.28 189.50 L263.68 189.75 L264.08 190.00 L264.48 190.25 L264.88 190.50 L265.28 190.75 L265.68 191.04 L266.08 191.28 L266.48 191.52 L266.88 191.76 L267.28 192.00 L267.68 192.24 L268.08 192.47 L268.48 192.70 L268.88 192.98 L269.28 193.21 L269.68 193.44 L270.08 193.66 L270.48 193.88 L270.88 194.11 L271.28 194.33 L271.69 194.59 L272.09 194.81 L272.49 195.02 L272.89 195.23 L273.29 195.45 L273.69 195.66 L274.09 195.86 L274.49 196.07 L274.89 196.32 L275.29 196.52 L275.69 196.72 L276.09 196.92 L276.49 197.12 L276.89 197.32 L277.29 197.52 L277.69 197.71 L278.09 197.94 L278.49 198.13 L278.89 198.32 L279.29 198.51 L279.69 198.70 L280.09 198.88 L280.49 199.06 L280.89 199.28 L281.29 199.46 L281.69 199.64 L282.09 199.82 L282.49 199.99 L282.89 200.17 L283.29 200.34 L283.69 200.51 L284.09 200.71 L284.49 200.88 L284.89 201.05 L285.29 201.21 L285.70 201.38 L286.10 201.54 L286.50 201.70 L286.90 201.89 L287.30 202.05 L287.70 202.20 L288.10 202.36 L288.50 202.51 L288.90 202.66 L289.30 202.81 L289.70 202.96 L290.10 203.14 L290.50 203.29 L290.90 203.43 L291.30 203.58 L291.70 203.72 L292.10 203.86 L292.50 204.00 L292.90 204.16 L293.30 204.30 L293.70 204.44 L294.10 204.57 L294.50 204.70 L294.90 204.83 L295.30 204.96 L295.70 205.09 L296.10 205.25 L296.50 205.37 L296.90 205.50 L297.30 205.62 L297.70 205.74 L298.10 205.86 L298.50 205.98 L298.90 206.10 L299.30 206.24 L299.70 206.36 L300.11 206.47 L300.51 206.59 L300.91 206.70 L301.31 206.81 L301.71 206.92 L302.11 207.05 L302.51 207.16 L302.91 207.27 L303.31 207.37 L303.71 207.47 L304.11 207.58 L304.51 207.68 L304.91 207.78 L305.31 207.90 L305.71 208.00 L306.11 208.09 L306.51 208.19 L306.91 208.28 L307.31 208.38 L307.71 208.47 L308.11 208.58 L308.51 208.67 L308.91 208.76 L309.31 208.84 L309.71 208.93 L310.11 209.02 L310.51 209.10 L310.91 209.18 L311.31 209.28 L311.71 209.36 L312.11 209.44 L312.51 209.52 L312.91 209.60 L313.31 209.68 L313.71 209.75 L314.12 209.83 L314.52 209.92 L314.92 209.99 L315.32 210.06 L315.72 210.13 L316.12 210.20 L316.52 210.27 L316.92 210.34 L317.32 210.42 L317.72 210.48 L318.12 210.55 L318.52 210.61 L318.92 210.68 L319.32 210.74 L319.72 210.80 L320.12 210.86 L320.52 210.93 L320.92 210.99 L321.32 211.05 L321.72 211.10 L322.12 211.16 L322.52 211.21 L322.92 211.27 L323.32 211.33 L323.72 211.38 L324.12 211.43 L324.52 211.48 L324.92 211.53 L325.32 211.58 L325.72 211.63 L326.12 211.67 L326.52 211.73 L326.92 211.77 L327.32 211.82 L327.72 211.86 L328.12 211.90 L328.53 211.94 L328.93 211.99 L329.33 212.03 L329.73 212.07 L330.13 212.11 L330.53 212.15 L330.93 212.19 L331.33 212.22 L331.73 212.26 L332.13 212.29 L332.53 212.33 L332.93 212.36 L333.33 212.40 L333.73 212.43 L334.13 212.46 L334.53 212.49 L334.93 212.52 L335.33 212.55 L335.73 212.58 L336.13 212.61 L336.53 212.63 L336.93 212.66 L337.33 212.69 L337.73 212.71 L338.13 212.73 L338.53 212.76 L338.93 212.78 L339.33 212.81 L339.73 212.83 L340.13 212.85 L340.53 212.87 L340.93 212.89 L341.33 212.90 L341.73 212.93 L342.13 212.94 L342.54 212.96 L342.94 212.97 L343.34 212.99 L343.74 213.00 L344.14 213.02 L344.54 213.03 L344.94 213.05 L345.34 213.06 L345.74 213.07 L346.14 213.08 L346.54 213.09 L346.94 213.10 L347.34 213.11 L347.74 213.12 L348.14 213.12 L348.54 213.13 L348.94 213.14 L349.34 213.14 L349.74 213.15 L350.14 213.15 L350.54 213.16 L350.94 213.16 L351.34 213.15 L351.74 213.15 L352.14 213.15 L352.54 213.14 L352.94 213.13 L353.34 213.13 L353.74 213.12 L354.14 213.11 L354.54 213.10 L354.94 213.10 L355.34 213.09 L355.74 213.08 L356.14 213.07 L356.55 213.05 L356.95 213.04 L357.35 213.03 L357.75 213.02 L358.15 213.00 L358.55 212.99 L358.95 212.98 L359.35 212.96 L359.75 212.94 L360.15 212.93 L360.55 212.91 L360.95 212.90 L361.35 212.88 L361.75 212.86 L362.15 212.84 L362.55 212.82 L362.95 212.80 L363.35 212.78 L363.75 212.76 L364.15 212.74 L364.55 212.72 L364.95 212.70 L365.35 212.68 L365.75 212.65 L366.15 212.63 L366.55 212.60 L366.95 212.58 L367.35 212.55 L367.75 212.53 L368.15 212.50 L368.55 212.47 L368.95 212.45 L369.35 212.42 L369.75 212.39 L370.15 212.36 L370.55 212.33 L370.96 212.31 L371.36 212.28 L371.76 212.24 L372.16 212.21 L372.56 212.18 L372.96 212.15 L373.36 212.12 L373.76 212.08 L374.16 212.05 L374.56 212.01 L374.96 211.98 L375.36 211.94 L375.76 211.91 L376.16 211.87 L376.56 211.84 L376.96 211.80 L377.36 211.77 L377.76 211.72 L378.16 211.68 L378.56 211.65 L378.96 211.61 L379.36 211.57 L379.76 211.53 L380.16 211.49 L380.56 211.45 L380.96 211.40 L381.36 211.36 L381.76 211.32 L382.16 211.28 L382.56 211.24 L382.96 211.19 L383.36 211.15 L383.76 211.10 L384.16 211.05 L384.56 211.01 L384.97 210.96 L385.37 210.92 L385.77 210.87 L386.17 210.83 L386.57 210.78 L386.97 210.72 L387.37 210.68 L387.77 210.63 L388.17 210.58 L388.57 210.53 L388.97 210.48 L389.37 210.43 L389.77 210.37 L390.17 210.32 L390.57 210.27 L390.97 210.22 L391.37 210.17 L391.77 210.12 L392.17 210.07 L392.57 210.01 L392.97 209.95 L393.37 209.90 L393.77 209.84 L394.17 209.79 L394.57 209.73 L394.97 209.68 L395.37 209.62 L395.77 209.56 L396.17 209.50 L396.57 209.44 L396.97 209.39 L397.37 209.33 L397.77 209.27 L398.17 209.21 L398.57 209.16 L398.97 209.08 L399.38 209.03 L399.78 208.97 L400.18 208.91 L400.58 208.85 L400.98 208.78 L401.38 208.72 L401.78 208.66 L402.18 208.59 L402.58 208.53 L402.98 208.46 L403.38 208.40 L403.78 208.34 L404.18 208.27 L404.58 208.21 L404.98 208.13 L405.38 208.07 L405.78 208.00 L406.18 207.94 L406.58 207.87 L406.98 207.81 L407.38 207.74 L407.78 207.67 L408.18 207.59 L408.58 207.52 L408.98 207.46 L409.38 207.39 L409.78 207.32 L410.18 207.25 L410.58 207.18 L410.98 207.10 L411.38 207.03 L411.78 206.96 L412.18 206.89 L412.58 206.82 L412.98 206.75 L413.39 206.67 L413.79 206.60 L414.19 206.52 L414.59 206.44 L414.99 206.37 L415.39 206.30 L415.79 206.22 L416.19 206.15 L416.59 206.08 L416.99 206.00 L417.39 205.91 L417.79 205.84 L418.19 205.76 L418.59 205.69 L418.99 205.61 L419.39 205.54 L419.79 205.46 L420.19 205.37 L420.59 205.29 L420.99 205.21 L421.39 205.14 L421.79 205.06 L422.19 204.98 L422.59 204.90 L422.99 204.82 L423.39 204.73 L423.79 204.65 L424.19 204.57 L424.59 204.49 L424.99 204.41 L425.39 204.33 L425.79 204.25 L426.19 204.15 L426.59 204.07 L426.99 203.99 L427.39 203.91 L427.80 203.82 L428.20 203.74 L428.60 203.66 L429.00 203.58 L429.40 203.48 L429.80 203.39 L430.20 203.31 L430.60 203.22 L431.00 203.14 L431.40 203.06 L431.80 202.97 L432.20 202.87 L432.60 202.78 L433.00 202.70 L433.40 202.61 L433.80 202.53 L434.20 202.44 L434.60 202.35 L435.00 202.27 L435.40 202.16 L435.80 202.08 L436.20 201.99 L436.60 201.90 L437.00 201.81 L437.40 201.72 L437.80 201.64 L438.20 201.55 L438.60 201.44 L439.00 201.35 L439.40 201.26 L439.80 201.17 L440.20 201.08 L440.60 200.99 L441.00 200.90 L441.40 200.79 L441.81 200.70 L442.21 200.61 L442.61 200.52 L443.01 200.43 L443.41 200.34 L443.81 200.25 L444.21 200.16 L444.61 200.04 L445.01 199.95 L445.41 199.86 L445.81 199.77 L446.21 199.67 L446.61 199.58 L447.01 199.49 L447.41 199.38 L447.81 199.28 L448.21 199.19 L448.61 199.09 L449.01 199.00 L449.41 198.90 L449.81 198.81 L450.21 198.71 L450.61 198.60 L451.01 198.51 L451.41 198.41 L451.81 198.31 L452.21 198.22 L452.61 198.12 L453.01 198.03 L453.41 197.93 L453.81 197.81 L454.21 197.72 L454.61 197.62 L455.01 197.52 L455.41 197.43 L455.82 197.33 L456.22 197.23 L456.62 197.11 L457.02 197.02 L457.42 196.92 L457.82 196.82 L458.22 196.72 L458.62 196.62 L459.02 196.52 L459.42 196.43 L459.82 196.31 L460.22 196.21 L460.62 196.11 L461.02 196.01 L461.42 195.91 L461.82 195.81 L462.22 195.71 L462.62 195.59 L463.02 195.49 L463.42 195.39 L463.82 195.29 L464.22 195.19 L464.62 195.09 L465.02 194.99 L465.42 194.89 L465.82 194.76 L466.22 194.66 L466.62 194.56 L467.02 194.46 L467.42 194.36 L467.82 194.26 L468.22 194.15 L468.62 194.03 L469.02 193.93 L469.42 193.83 L469.82 193.73 L470.23 193.62 L470.63 193.52 L471.03 193.42 L471.43 193.32 L471.83 193.19 L472.23 193.09 L472.63 192.99 L473.03 192.88 L473.43 192.78 L473.83 192.68 L474.23 192.57 L474.63 192.47 L475.03 192.34 L475.43 192.24 L475.83 192.14 L476.23 192.03 L476.63 191.93 L477.03 191.82 L477.43 191.72 L477.83 191.59 L478.23 191.49 L478.63 191.39 L479.03 191.28 L479.43 191.18 L479.83 191.07 L480.23 190.97 L480.63 190.86 L481.03 190.74 L481.43 190.63 L481.83 190.53 L482.23 190.42 L482.63 190.31 L483.03 190.21 L483.43 190.10 L483.83 189.98 L484.24 189.87 L484.64 189.77 L485.04 189.66 L485.44 189.55 L485.84 189.45 L486.24 189.34 L486.64 189.24 L487.04 189.11 L487.44 189.00 L487.84 188.90 L488.24 188.79 L488.64 188.69 L489.04 188.58 L489.44 188.47 L489.84 188.37 L490.24 188.24 L490.64 188.13 L491.04 188.03 L491.44 187.92 L491.84 187.81 L492.24 187.71 L492.64 187.60 L493.04 187.47 L493.44 187.37 L493.84 187.26 L494.24 187.15 L494.64 187.05 L495.04 186.94 L495.44 186.83 L495.84 186.73 L496.24 186.60 L496.64 186.49 L497.04 186.38 L497.44 186.28 L497.84 186.17 L498.24 186.06 L498.65 185.96 L499.05 185.83 L499.45 185.72 L499.85 185.62 L500.25 185.51 L500.65 185.40 L501.05 185.29 L501.45 185.25 L501.85 185.25 L502.25 185.25 L502.65 185.25 L503.05 185.25 L503.45 185.25 L503.85 185.25 L504.25 185.25 L504.65 185.25 L505.05 185.25 L505.45 185.25 L505.45 189.55 L505.05 189.66 L504.65 189.77 L504.25 189.87 L503.85 189.98 L503.45 190.09 L503.05 190.19 L502.65 190.30 L502.25 190.43 L501.85 190.54 L501.45 190.64 L501.05 190.75 L500.65 190.86 L500.25 190.96 L499.85 191.07 L499.45 191.18 L499.05 191.30 L498.65 191.41 L498.24 191.52 L497.84 191.62 L497.44 191.73 L497.04 191.84 L496.64 191.94 L496.24 192.07 L495.84 192.18 L495.44 192.28 L495.04 192.39 L494.64 192.50 L494.24 192.60 L493.84 192.71 L493.44 192.82 L493.04 192.94 L492.64 193.05 L492.24 193.16 L491.84 193.26 L491.44 193.37 L491.04 193.47 L490.64 193.58 L490.24 193.71 L489.84 193.81 L489.44 193.92 L489.04 194.02 L488.64 194.13 L488.24 194.24 L487.84 194.34 L487.44 194.45 L487.04 194.57 L486.64 194.68 L486.24 194.78 L485.84 194.89 L485.44 194.99 L485.04 195.10 L484.64 195.20 L484.24 195.31 L483.83 195.43 L483.43 195.54 L483.03 195.64 L482.63 195.75 L482.23 195.85 L481.83 195.96 L481.43 196.06 L481.03 196.19 L480.63 196.29 L480.23 196.39 L479.83 196.50 L479.43 196.60 L479.03 196.71 L478.63 196.81 L478.23 196.91 L477.83 197.04 L477.43 197.14 L477.03 197.24 L476.63 197.35 L476.23 197.45 L475.83 197.55 L475.43 197.66 L475.03 197.78 L474.63 197.88 L474.23 197.98 L473.83 198.09 L473.43 198.19 L473.03 198.29 L472.63 198.39 L472.23 198.50 L471.83 198.62 L471.43 198.72 L471.03 198.82 L470.63 198.92 L470.23 199.02 L469.82 199.12 L469.42 199.23 L469.02 199.33 L468.62 199.45 L468.22 199.55 L467.82 199.65 L467.42 199.75 L467.02 199.85 L466.62 199.95 L466.22 200.05 L465.82 200.17 L465.42 200.27 L465.02 200.37 L464.62 200.47 L464.22 200.57 L463.82 200.67 L463.42 200.76 L463.02 200.86 L462.62 200.98 L462.22 201.08 L461.82 201.18 L461.42 201.28 L461.02 201.37 L460.62 201.47 L460.22 201.57 L459.82 201.69 L459.42 201.78 L459.02 201.88 L458.62 201.98 L458.22 202.08 L457.82 202.17 L457.42 202.27 L457.02 202.36 L456.62 202.48 L456.22 202.58 L455.82 202.67 L455.41 202.77 L455.01 202.86 L454.61 202.96 L454.21 203.05 L453.81 203.17 L453.41 203.26 L453.01 203.36 L452.61 203.45 L452.21 203.54 L451.81 203.64 L451.41 203.73 L451.01 203.82 L450.61 203.94 L450.21 204.03 L449.81 204.12 L449.41 204.22 L449.01 204.31 L448.61 204.40 L448.21 204.49 L447.81 204.58 L447.41 204.69 L447.01 204.79 L446.61 204.88 L446.21 204.97 L445.81 205.06 L445.41 205.15 L445.01 205.24 L444.61 205.35 L444.21 205.44 L443.81 205.53 L443.41 205.62 L443.01 205.70 L442.61 205.79 L442.21 205.88 L441.81 205.97 L441.40 206.08 L441.00 206.17 L440.60 206.25 L440.20 206.34 L439.80 206.43 L439.40 206.51 L439.00 206.60 L438.60 206.71 L438.20 206.79 L437.80 206.88 L437.40 206.96 L437.00 207.05 L436.60 207.13 L436.20 207.22 L435.80 207.30 L435.40 207.41 L435.00 207.49 L434.60 207.57 L434.20 207.66 L433.80 207.74 L433.40 207.83 L433.00 207.91 L432.60 207.99 L432.20 208.09 L431.80 208.17 L431.40 208.25 L431.00 208.34 L430.60 208.42 L430.20 208.50 L429.80 208.58 L429.40 208.68 L429.00 208.76 L428.60 208.84 L428.20 208.92 L427.80 209.00 L427.39 209.07 L426.99 209.15 L426.59 209.23 L426.19 209.33 L425.79 209.40 L425.39 209.48 L424.99 209.56 L424.59 209.64 L424.19 209.71 L423.79 209.79 L423.39 209.88 L422.99 209.96 L422.59 210.03 L422.19 210.11 L421.79 210.18 L421.39 210.26 L420.99 210.33 L420.59 210.41 L420.19 210.50 L419.79 210.57 L419.39 210.64 L418.99 210.71 L418.59 210.79 L418.19 210.86 L417.79 210.93 L417.39 211.02 L416.99 211.09 L416.59 211.16 L416.19 211.23 L415.79 211.30 L415.39 211.37 L414.99 211.44 L414.59 211.51 L414.19 211.59 L413.79 211.66 L413.39 211.73 L412.98 211.80 L412.58 211.86 L412.18 211.93 L411.78 212.00 L411.38 212.07 L410.98 212.14 L410.58 212.21 L410.18 212.28 L409.78 212.34 L409.38 212.41 L408.98 212.47 L408.58 212.54 L408.18 212.61 L407.78 212.68 L407.38 212.74 L406.98 212.80 L406.58 212.86 L406.18 212.93 L405.78 212.99 L405.38 213.05 L404.98 213.12 L404.58 213.18 L404.18 213.24 L403.78 213.30 L403.38 213.36 L402.98 213.42 L402.58 213.48 L402.18 213.55 L401.78 213.61 L401.38 213.66 L400.98 213.72 L400.58 213.78 L400.18 213.83 L399.78 213.89 L399.38 213.95 L398.97 214.01 L398.57 214.07 L398.17 214.12 L397.77 214.18 L397.37 214.23 L396.97 214.28 L396.57 214.34 L396.17 214.39 L395.77 214.45 L395.37 214.50 L394.97 214.55 L394.57 214.60 L394.17 214.65 L393.77 214.70 L393.37 214.75 L392.97 214.81 L392.57 214.86 L392.17 214.91 L391.77 214.96 L391.37 215.01 L390.97 215.05 L390.57 215.10 L390.17 215.15 L389.77 215.20 L389.37 215.25 L388.97 215.29 L388.57 215.34 L388.17 215.38 L387.77 215.42 L387.37 215.47 L386.97 215.52 L386.57 215.56 L386.17 215.60 L385.77 215.64 L385.37 215.69 L384.97 215.73 L384.56 215.77 L384.16 215.81 L383.76 215.85 L383.36 215.89 L382.96 215.93 L382.56 215.97 L382.16 216.01 L381.76 216.04 L381.36 216.08 L380.96 216.12 L380.56 216.16 L380.16 216.19 L379.76 216.23 L379.36 216.26 L378.96 216.30 L378.56 216.33 L378.16 216.36 L377.76 216.40 L377.36 216.44 L376.96 216.47 L376.56 216.50 L376.16 216.53 L375.76 216.56 L375.36 216.59 L374.96 216.62 L374.56 216.65 L374.16 216.68 L373.76 216.71 L373.36 216.74 L372.96 216.76 L372.56 216.79 L372.16 216.81 L371.76 216.84 L371.36 216.87 L370.96 216.89 L370.55 216.92 L370.15 216.94 L369.75 216.96 L369.35 216.99 L368.95 217.01 L368.55 217.03 L368.15 217.05 L367.75 217.07 L367.35 217.09 L366.95 217.11 L366.55 217.13 L366.15 217.15 L365.75 217.17 L365.35 217.19 L364.95 217.21 L364.55 217.22 L364.15 217.24 L363.75 217.25 L363.35 217.27 L362.95 217.28 L362.55 217.30 L362.15 217.31 L361.75 217.33 L361.35 217.34 L360.95 217.35 L360.55 217.36 L360.15 217.37 L359.75 217.38 L359.35 217.39 L358.95 217.40 L358.55 217.41 L358.15 217.42 L357.75 217.42 L357.35 217.43 L356.95 217.44 L356.55 217.44 L356.14 217.45 L355.74 217.45 L355.34 217.46 L354.94 217.46 L354.54 217.46 L354.14 217.46 L353.74 217.47 L353.34 217.47 L352.94 217.47 L352.54 217.47 L352.14 217.47 L351.74 217.47 L351.34 217.47 L350.94 217.47 L350.54 217.47 L350.14 217.47 L349.74 217.47 L349.34 217.47 L348.94 217.47 L348.54 217.47 L348.14 217.47 L347.74 217.47 L347.34 217.46 L346.94 217.46 L346.54 217.46 L346.14 217.46 L345.74 217.45 L345.34 217.45 L344.94 217.44 L344.54 217.44 L344.14 217.43 L343.74 217.42 L343.34 217.41 L342.94 217.40 L342.54 217.40 L342.13 217.39 L341.73 217.38 L341.33 217.36 L340.93 217.35 L340.53 217.34 L340.13 217.33 L339.73 217.31 L339.33 217.30 L338.93 217.28 L338.53 217.27 L338.13 217.25 L337.73 217.23 L337.33 217.21 L336.93 217.20 L336.53 217.18 L336.13 217.16 L335.73 217.14 L335.33 217.12 L334.93 217.09 L334.53 217.07 L334.13 217.05 L333.73 217.02 L333.33 217.00 L332.93 216.98 L332.53 216.95 L332.13 216.92 L331.73 216.89 L331.33 216.86 L330.93 216.84 L330.53 216.81 L330.13 216.78 L329.73 216.75 L329.33 216.72 L328.93 216.68 L328.53 216.64 L328.12 216.61 L327.72 216.58 L327.32 216.54 L326.92 216.51 L326.52 216.47 L326.12 216.43 L325.72 216.39 L325.32 216.35 L324.92 216.31 L324.52 216.27 L324.12 216.23 L323.72 216.19 L323.32 216.14 L322.92 216.10 L322.52 216.05 L322.12 216.00 L321.72 215.95 L321.32 215.91 L320.92 215.86 L320.52 215.81 L320.12 215.76 L319.72 215.70 L319.32 215.65 L318.92 215.60 L318.52 215.54 L318.12 215.49 L317.72 215.44 L317.32 215.38 L316.92 215.32 L316.52 215.25 L316.12 215.19 L315.72 215.14 L315.32 215.07 L314.92 215.01 L314.52 214.95 L314.12 214.89 L313.71 214.81 L313.31 214.75 L312.91 214.68 L312.51 214.61 L312.11 214.54 L311.71 214.47 L311.31 214.40 L310.91 214.33 L310.51 214.25 L310.11 214.17 L309.71 214.10 L309.31 214.02 L308.91 213.95 L308.51 213.87 L308.11 213.79 L307.71 213.71 L307.31 213.61 L306.91 213.53 L306.51 213.45 L306.11 213.37 L305.71 213.28 L305.31 213.20 L304.91 213.11 L304.51 213.00 L304.11 212.91 L303.71 212.82 L303.31 212.73 L302.91 212.64 L302.51 212.54 L302.11 212.45 L301.71 212.35 L301.31 212.24 L300.91 212.14 L300.51 212.04 L300.11 211.94 L299.70 211.84 L299.30 211.73 L298.90 211.63 L298.50 211.50 L298.10 211.39 L297.70 211.29 L297.30 211.18 L296.90 211.07 L296.50 210.96 L296.10 210.84 L295.70 210.73 L295.30 210.59 L294.90 210.47 L294.50 210.36 L294.10 210.24 L293.70 210.12 L293.30 209.99 L292.90 209.87 L292.50 209.72 L292.10 209.60 L291.70 209.47 L291.30 209.34 L290.90 209.21 L290.50 209.08 L290.10 208.95 L289.70 208.82 L289.30 208.65 L288.90 208.52 L288.50 208.38 L288.10 208.24 L287.70 208.10 L287.30 207.96 L286.90 207.82 L286.50 207.67 L286.10 207.50 L285.70 207.35 L285.29 207.20 L284.89 207.05 L284.49 206.90 L284.09 206.75 L283.69 206.60 L283.29 206.41 L282.89 206.25 L282.49 206.09 L282.09 205.93 L281.69 205.77 L281.29 205.61 L280.89 205.45 L280.49 205.28 L280.09 205.08 L279.69 204.91 L279.29 204.74 L278.89 204.57 L278.49 204.40 L278.09 204.22 L277.69 204.05 L277.29 203.83 L276.89 203.65 L276.49 203.47 L276.09 203.29 L275.69 203.11 L275.29 202.92 L274.89 202.73 L274.49 202.55 L274.09 202.32 L273.69 202.13 L273.29 201.93 L272.89 201.74 L272.49 201.54 L272.09 201.34 L271.69 201.14 L271.28 200.94 L270.88 200.70 L270.48 200.50 L270.08 200.29 L269.68 200.08 L269.28 199.87 L268.88 199.66 L268.48 199.45 L268.08 199.19 L267.68 198.98 L267.28 198.76 L266.88 198.54 L266.48 198.32 L266.08 198.10 L265.68 197.87 L265.28 197.64 L264.88 197.37 L264.48 197.14 L264.08 196.91 L263.68 196.68 L263.28 196.44 L262.88 196.21 L262.48 195.97 L262.08 195.68 L261.68 195.44 L261.28 195.20 L260.88 194.95 L260.48 194.70 L260.08 194.45 L259.68 194.20 L259.28 193.95 L258.88 193.65 L258.48 193.39 L258.08 193.13 L257.68 192.87 L257.28 192.61 L256.87 192.35 L256.47 192.08 L256.07 191.82 L255.67 191.49 L255.27 191.22 L254.87 190.95 L254.47 190.68 L254.07 190.40 L253.67 190.12 L253.27 189.84 L252.87 189.50 L252.47 189.22 L252.07 188.93 L251.67 188.64 L251.27 188.36 L250.87 188.06 L250.47 187.77 L250.07 187.48 L249.67 187.12 L249.27 186.82 L248.87 186.52 L248.47 186.21 L248.07 185.91 L247.67 185.60 L247.27 185.29 L246.87 184.92 L246.47 184.61 L246.07 184.29 L245.67 183.97 L245.27 183.65 L244.87 183.33 L244.47 183.01 L244.07 182.68 L243.67 182.29 L243.27 181.96 L242.86 181.63 L242.46 181.30 L242.06 180.96 L241.66 180.62 L241.26 180.28 L240.86 179.87 L240.46 179.53 L240.06 179.18 L239.66 178.84 L239.26 178.49 L238.86 178.13 L238.46 177.78 L238.06 177.42 L237.66 176.99 L237.26 176.63 L236.86 176.27 L236.46 175.90 L236.06 175.54 L235.66 175.17 L235.26 174.80 L234.86 174.42 L234.46 173.97 L234.06 173.59 L233.66 173.21 L233.26 172.83 L232.86 172.44 L232.46 172.06 L232.06 171.67 L231.66 171.20 L231.26 170.80 L230.86 170.40 L230.46 170.01 L230.06 169.60 L229.66 169.20 L229.26 168.79 L228.85 168.39 L228.45 167.89 L228.05 167.48 L227.65 167.06 L227.25 166.65 L226.85 166.22 L226.45 165.80 L226.05 165.38 L225.65 164.86 L225.25 164.43 L224.85 164.00 L224.45 163.56 L224.05 163.12 L223.65 162.68 L223.25 162.24 L222.85 161.79 L222.45 161.25 L222.05 160.80 L221.65 160.35 L221.25 159.89 L220.85 159.43 L220.45 158.97 L220.05 158.51 L219.65 158.04 L219.25 157.47 L218.85 157.00 L218.45 156.53 L218.05 156.05 L217.65 155.57 L217.25 155.08 L216.85 154.60 L216.45 154.01 L216.05 153.52 L215.65 153.02 L215.25 152.52 L214.85 152.02 L214.44 151.52 L214.04 151.01 L213.64 150.51 L213.24 149.89 L212.84 149.38 L212.44 148.86 L212.04 148.34 L211.64 147.81 L211.24 147.29 L210.84 146.76 L210.44 146.12 L210.04 145.59 L209.64 145.05 L209.24 144.51 L208.84 143.96 L208.44 143.41 L208.04 142.86 L207.64 142.31 L207.24 141.64 L206.84 141.09 L206.44 140.52 L206.04 139.96 L205.64 139.39 L205.24 138.82 L204.84 138.24 L204.44 137.55 L204.04 136.97 L203.64 136.39 L203.24 135.80 L202.84 135.21 L202.44 134.62 L202.04 134.02 L201.64 133.42 L201.24 132.70 L200.84 132.09 L200.43 131.48 L200.03 130.87 L199.63 130.25 L199.23 129.63 L198.83 129.01 L198.43 128.39 L198.03 127.63 L197.63 127.00 L197.23 126.37 L196.83 125.73 L196.43 125.09 L196.03 124.44 L195.63 123.79 L195.23 123.01 L194.83 122.36 L194.43 121.70 L194.03 121.05 L193.63 120.38 L193.23 119.72 L192.83 119.05 L192.43 118.39 L192.03 117.58 L191.63 116.91 L191.23 116.23 L190.83 115.55 L190.43 114.87 L190.03 114.19 L189.63 113.51 L189.23 112.69 L188.83 112.00 L188.43 111.31 L188.03 110.62 L187.63 109.93 L187.23 109.23 L186.83 108.54 L186.43 107.84 L186.02 107.01 L185.62 106.31 L185.22 105.61 L184.82 104.91 L184.42 104.21 L184.02 103.50 L183.62 102.80 L183.22 102.10 L182.82 101.25 L182.42 100.55 L182.02 99.84 L181.62 99.13 L181.22 98.43 L180.82 97.72 L180.42 97.02 L180.02 96.17 L179.62 95.46 L179.22 94.76 L178.82 94.05 L178.42 93.35 L178.02 92.65 L177.62 91.94 L177.22 91.24 L176.82 90.40 L176.42 89.69 L176.02 88.99 L175.62 88.29 L175.22 87.60 L174.82 86.90 L174.42 86.20 L174.02 85.37 L173.62 84.68 L173.22 83.98 L172.82 83.29 L172.42 82.61 L172.01 81.92 L171.61 81.24 L171.21 80.55 L170.81 79.74 L170.41 79.06 L170.01 78.38 L169.61 77.71 L169.21 77.04 L168.81 76.37 L168.41 75.70 L168.01 75.04 L167.61 74.24 L167.21 73.59 L166.81 72.93 L166.41 72.28 L166.01 71.63 L165.61 70.98 L165.21 70.34 L164.81 69.57 L164.41 68.94 L164.01 68.31 L163.61 67.68 L163.21 67.05 L162.81 66.43 L162.41 65.81 L162.01 65.20 L161.61 64.47 L161.21 63.86 L160.81 63.26 L160.41 62.67 L160.01 62.07 L159.61 61.49 L159.21 60.90 L158.81 60.21 L158.41 59.64 L158.01 59.07 L157.60 58.50 L157.20 57.94 L156.80 57.39 L156.40 56.84 L156.00 56.30 L155.60 55.65 L155.20 55.12 L154.80 54.59 L154.40 54.07 L154.00 53.56 L153.60 53.05 L153.20 52.54 L152.80 51.95 L152.40 51.45 L152.00 50.97 L151.60 50.49 L151.20 50.02 L150.80 49.55 L150.40 49.09 L150.00 48.63 L149.60 48.10 L149.20 47.66 L148.80 47.22 L148.40 46.80 L148.00 46.38 L147.60 45.97 L147.20 45.56 L146.80 45.16 L146.40 44.69 L146.00 44.31 L145.60 43.93 L145.20 43.57 L144.80 43.21 L144.40 42.85 L144.00 42.51 L143.59 42.10 L143.19 41.78 L142.79 41.46 L142.39 41.15 L141.99 40.84 L141.59 40.55 L141.19 40.26 L140.79 39.98 L140.39 39.66 L139.99 39.40 L139.59 39.15 L139.19 38.90 L138.79 38.67 L138.39 38.44 L137.99 38.23 L137.59 37.98 L137.19 37.79 L136.79 37.60 L136.39 37.42 L135.99 37.25 L135.59 37.10 L135.19 36.95 L134.79 36.81 L134.39 36.66 L133.99 36.54 L133.59 36.43 L133.19 36.33 L132.79 36.25 L132.39 36.17 L131.99 36.10 L131.59 36.15 L131.19 36.22 L130.79 36.31 L130.39 36.41 L129.99 36.52 L129.58 36.64 L129.18 36.78 L128.78 36.96 L128.38 37.12 L127.98 37.29 L127.58 37.48 L127.18 37.68 L126.78 37.89 L126.38 38.12 L125.98 38.36 L125.58 38.66 L125.18 38.93 L124.78 39.21 L124.38 39.50 L123.98 39.81 L123.58 40.13 L123.18 40.46 L122.78 40.88 L122.38 41.24 L121.98 41.62 L121.58 42.02 L121.18 42.42 L120.78 42.84 L120.38 43.28 L119.98 43.73 L119.58 44.29 L119.18 44.77 L118.78 45.27 L118.38 45.78 L117.98 46.31 L117.58 46.85 L117.18 47.41 L116.78 48.10 L116.38 48.69 L115.98 49.30 L115.58 49.92 L115.17 50.56 L114.77 51.22 L114.37 51.89 L113.97 52.58 L113.57 53.43 L113.17 54.15 L112.77 54.89 L112.37 55.65 L111.97 56.42 L111.57 57.22 L111.17 58.02 L110.77 58.85 L110.37 59.86 L109.97 60.73 L109.57 61.61 L109.17 62.51 L108.77 63.42 L108.37 64.36 L107.97 65.31 L107.57 66.47 L107.17 67.46 L106.77 68.47 L106.37 69.50 L105.97 70.54 L105.57 71.61 L105.17 72.69 L104.77 73.79 L104.37 75.14 L103.97 76.28 L103.57 77.44 L103.17 78.62 L102.77 79.82 L102.37 81.04 L101.97 82.27 L101.57 83.78 L101.16 85.06 L100.76 86.36 L100.36 87.68 L99.96 89.02 L99.56 90.38 L99.16 91.76 L98.76 93.16 L98.36 94.86 L97.96 96.30 L97.56 97.76 L97.16 99.25 L96.76 100.75 L96.36 102.27 L95.96 103.82 L95.56 105.38 L95.16 107.28 L94.76 108.89 L94.36 110.52 L93.96 112.17 L93.56 113.84 L93.16 115.54 L92.76 117.25 L92.36 119.33 L91.96 121.09 L91.56 122.87 L91.16 124.67 L90.76 126.50 L90.36 128.34 L89.96 130.21 L89.56 132.09 L89.16 134.39 L88.76 136.32 L88.36 138.28 L87.96 140.26 L87.56 142.26 L87.16 144.28 L86.75 146.32 L86.35 148.80 L85.95 150.89 L85.55 153.01 L85.15 155.14 L84.75 157.30 L84.35 159.48 L83.95 160.36 L83.55 160.36 L83.15 160.36 L82.75 160.36 L82.35 160.36 L81.95 160.36 L81.55 160.36 L81.15 160.36 L80.75 160.36 L80.35 160.36 L79.95 160.36Z" fill="#000"/>
<g font-family="'Liberation Sans', Arial, Helvetica, sans-serif" font-weight="bold" stroke-width="0.7" stroke-linejoin="round" fill="#000" stroke="#000">
<text x="72" y="451.7" font-size="22" text-anchor="end">0</text>
<text x="72" y="389.5" font-size="22" text-anchor="end">0.1</text>
<text x="72" y="327.2" font-size="22" text-anchor="end">0.2</text>
<text x="72" y="265.0" font-size="22" text-anchor="end">0.3</text>
<text x="72" y="202.7" font-size="22" text-anchor="end">0.4</text>
<text x="72" y="140.5" font-size="22" text-anchor="end">0.5</text>
<text x="72" y="78.2" font-size="22" text-anchor="end">0.6</text>
<text x="72" y="16.0" font-size="22" text-anchor="end">0.7</text>
<text x="113.6" y="473.8" font-size="22" text-anchor="middle">50</text>
<text x="191.6" y="473.8" font-size="22" text-anchor="middle">100</text>
<text x="269.6" y="473.8" font-size="22" text-anchor="middle">150</text>
<text x="347.6" y="473.8" font-size="22" text-anchor="middle">200</text>
<text x="425.6" y="473.8" font-size="22" text-anchor="middle">250</text>
<text x="503.6" y="473.8" font-size="22" text-anchor="middle">300</text>
<text x="300" y="506" font-size="21.5" text-anchor="middle">Temperature (K)</text>
<text transform="translate(16.2 229.5) rotate(-90)" font-size="22" text-anchor="middle">|QT| (Volts)</text>
<text x="452.8" y="42.4" font-size="21.6">#131</text>
<text x="407.7" y="185" font-size="21">|TS|</text>
</g>
<g font-family="'Liberation Sans', Arial, Helvetica, sans-serif" font-weight="bold" stroke-width="0.7" stroke-linejoin="round" fill="#2c3496" stroke="#2c3496">
<text><tspan x="402.7" y="268.5" font-size="21">|TS</tspan><tspan x="436.4" y="279.2" font-size="13">e</tspan><tspan x="444.7" y="268.5" font-size="21">|</tspan></text>
</g>
<g font-family="'Liberation Sans', Arial, Helvetica, sans-serif" font-weight="bold" stroke-width="0.7" stroke-linejoin="round" fill="#c91d31" stroke="#c91d31">
<text><tspan x="398.6" y="394.9" font-size="21">|TS</tspan><tspan x="432.7" y="407.4" font-size="14">ph</tspan><tspan x="450.1" y="394.9" font-size="21">|</tspan></text>
</g>
</svg>
</body></html>
